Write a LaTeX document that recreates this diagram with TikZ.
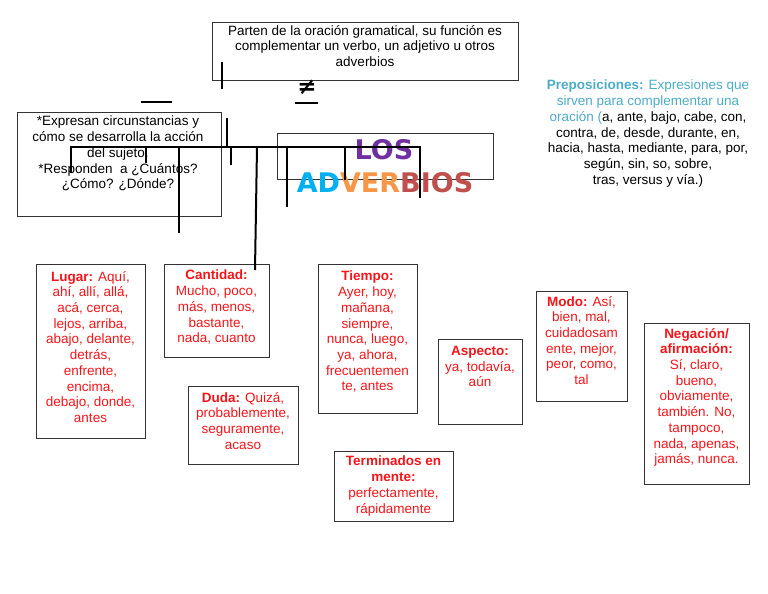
\documentclass[tikz,border=0pt]{standalone}
\usepackage{fontspec}
\setmainfont{Liberation Sans}
\newfontfamily\titlefont{DejaVu Sans}
\usepackage{xcolor}

\definecolor{prepblue}{RGB}{75,172,198}
\definecolor{lospurple}{RGB}{112,48,160}
\definecolor{adblue}{RGB}{0,176,240}
\definecolor{verorange}{RGB}{247,150,70}
\definecolor{biosred}{RGB}{192,80,77}
\definecolor{boxred}{RGB}{245,20,25}

\tikzset{
  box/.style={draw=black!80, line width=0.8pt},
  txt/.style={anchor=north, align=center, inner sep=0pt,
    font=\fontsize{13.5}{15.7}\selectfont, execute at begin node=\strut},
  redtxt/.style={txt, text=boxred},
  stub/.style={line width=2pt},
  title/.style={font=\titlefont\bfseries\fontsize{27}{27}\selectfont, inner sep=0pt}
}

\begin{document}
\begin{tikzpicture}[x=1pt,y=-1pt]
  \useasboundingbox (0,0) rectangle (768,594);

  % Definition box
  \draw[box] (212,22) rectangle (518,80);
  \node[txt] (def) at (365,25) {Parten de la oración gramatical, su función es\\
    complementar un verbo, un adjetivo u otros\\ adverbios};

  % Circumstances box
  \draw[box] (17,112) rectangle (221,216);
  \node[txt] (circ) at (118,116) {*Expresan circunstancias y\\
    cómo se desarrolla la acción\\ del sujeto.\\
    *Responden\ \ a ¿Cuántos?\\ ¿Cómo? ¿Dónde?};

  % Title
  \draw[box] (277,133) rectangle (493,179);
  \node[title, text=lospurple] (los) at (384,150) {LOS};
  \node[title] (adv) at (385,183) {\textcolor{adblue}{AD}\textcolor{verorange}{VER}\textcolor{biosred}{BIOS}};

  % Prepositions
  \node[txt] (prep) at (648,80) {\textcolor{prepblue}{\textbf{Preposiciones:} Expresiones que}\\
    \textcolor{prepblue}{sirven para complementar una}\\
    \textcolor{prepblue}{oración (}a, ante, bajo, cabe, con,\\
    contra, de, desde, durante, en,\\
    hacia, hasta, mediante, para, por,\\
    según, sin, so, sobre,\\ tras, versus y vía.)};

  % Not equal sign
  \node[inner sep=0pt, font=\titlefont\bfseries\fontsize{23}{23}\selectfont] (neq) at (307,87) {≠};
  \draw[stub] (295,103) -- (318,103);
  \draw[stub] (141,102) -- (172,102);

  % Kinds of adverbs
  \draw[box] (36,264) rectangle (145,438);
  \node[redtxt] (lugar) at (90.5,271) {\textbf{Lugar:} Aquí,\\ ahí, allí, allá,\\ acá, cerca,\\
    lejos, arriba,\\ abajo, delante,\\ detrás,\\ enfrente,\\ encima,\\ debajo, donde,\\ antes};

  \draw[box] (164,264) rectangle (269,357);
  \node[redtxt] (cantidad) at (216.5,270) {\textbf{Cantidad:}\\ Mucho, poco,\\ más, menos,\\
    bastante,\\ nada, cuanto};

  \draw[box] (188,386) rectangle (298,464);
  \node[redtxt] (duda) at (243,392) {\textbf{Duda:} Quizá,\\ probablemente,\\ seguramente,\\ acaso};

  \draw[box] (318,264) rectangle (417,413);
  \node[redtxt] (tiempo) at (367.5,271) {\textbf{Tiempo:}\\ Ayer, hoy,\\ mañana,\\ siempre,\\
    nunca, luego,\\ ya, ahora,\\ frecuentemen\\ te, antes};

  \draw[box] (438,339) rectangle (522,424);
  \node[redtxt] (aspecto) at (480,346) {\textbf{Aspecto:}\\ ya, todavía,\\ aún};

  \draw[box] (536,291) rectangle (627,401);
  \node[redtxt] (modo) at (581.5,296) {\textbf{Modo:} Así,\\ bien, mal,\\ cuidadosam\\
    ente, mejor,\\ peor, como,\\ tal};

  \draw[box] (644,323) rectangle (749,484);
  \node[redtxt] (negacion) at (696.5,328) {\textbf{Negación/}\\ \textbf{afirmación:}\\ Sí, claro,\\
    bueno,\\ obviamente,\\ también. No,\\ tampoco,\\ nada, apenas,\\ jamás, nunca.};

  \draw[box] (334,451) rectangle (453,521);
  \node[redtxt] (mente) at (393.5,456) {\textbf{Terminados en}\\ \textbf{mente:}\\
    perfectamente,\\ rápidamente};

  % Branch lines
  \draw[stub] (222,62) -- (222,89);
  \draw[stub] (227,118) -- (227,147);
  \draw[stub] (70,147) -- (421,147);
  \foreach \x/\y in {71/173, 146/163, 179/233, 231/165, 287/207, 345/180, 420/198}
    \draw[stub] (\x,147) -- (\x,\y);
  \draw[stub] (257,147) -- (255,270);
\end{tikzpicture}
\end{document}
